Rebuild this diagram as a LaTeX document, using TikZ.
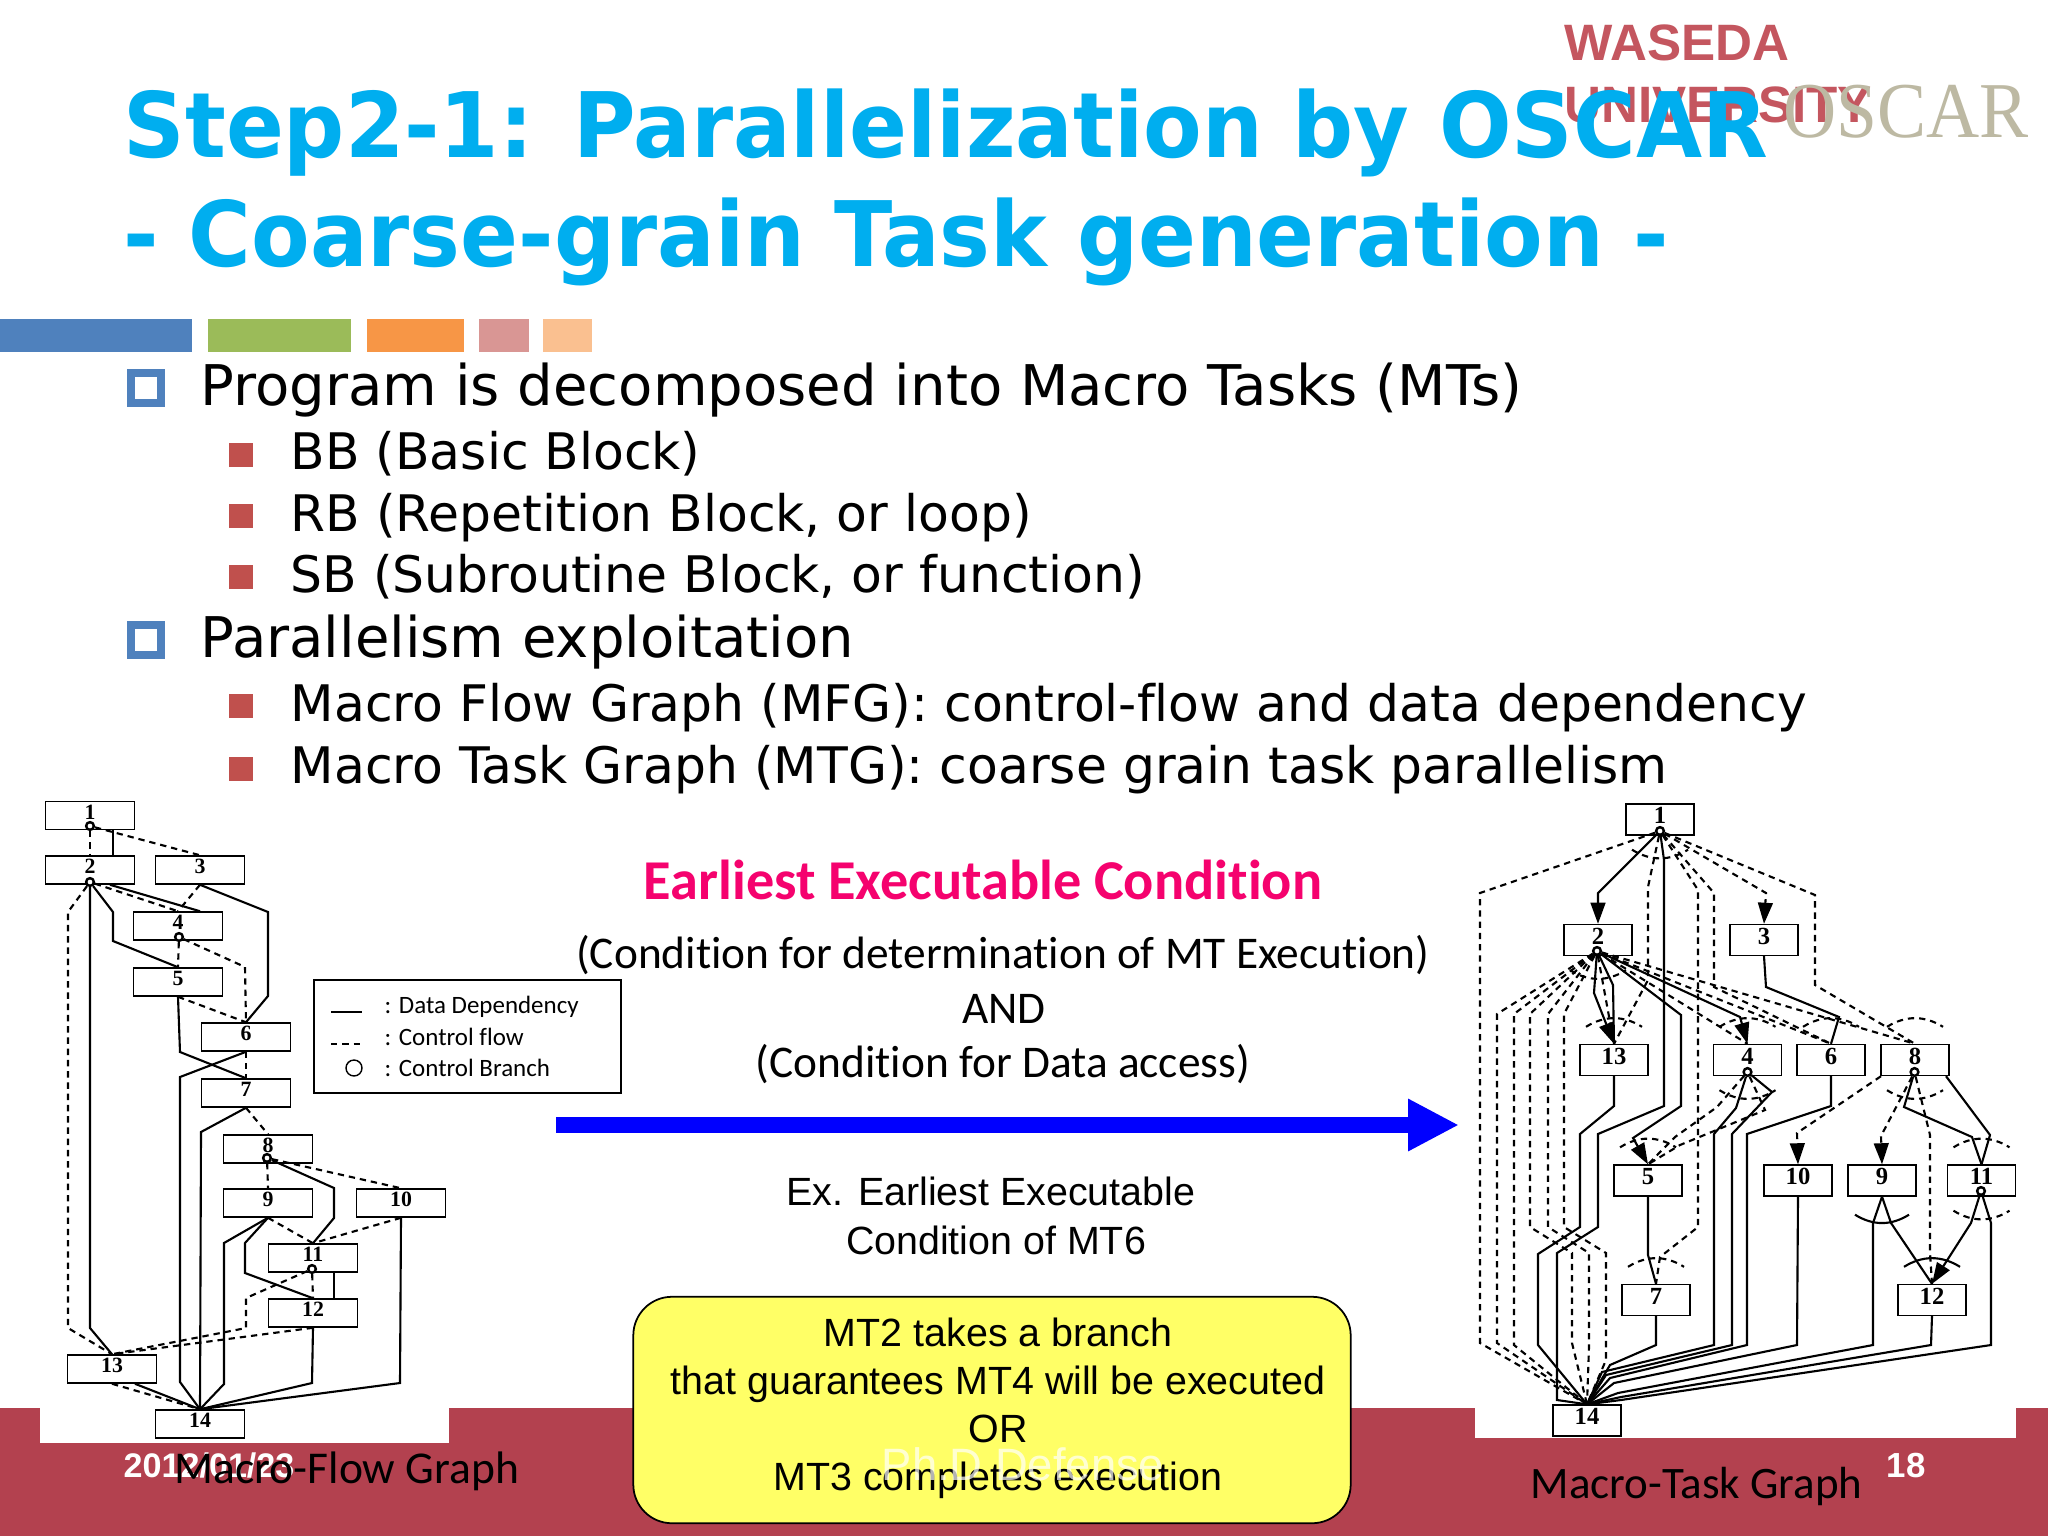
\documentclass[tikz,border=0pt]{standalone}
\usepackage{fontspec}
\usepackage{tikz}
\usetikzlibrary{arrows.meta,calc}
\setmainfont[Ligatures=NoCommon]{DejaVu Sans}
\newfontfamily\titlefont[FakeStretch=0.945]{DejaVu Sans}
\newfontfamily\arialfont{Liberation Sans}
\newfontfamily\calibrifont[Ligatures=NoCommon]{Carlito}
\newfontfamily\serifnum{Liberation Serif}
\newfontfamily\logofont[FakeStretch=0.93]{Liberation Serif}
\definecolor{titleblue}{HTML}{00AEEF}
\definecolor{barblue}{HTML}{4F81BD}
\definecolor{bargreen}{HTML}{9BBB59}
\definecolor{barorange}{HTML}{F79646}
\definecolor{barrose}{HTML}{D99694}
\definecolor{barpeach}{HTML}{FAC090}
\definecolor{markred}{HTML}{C0504D}
\definecolor{footred}{HTML}{B3414F}
\definecolor{wasedared}{HTML}{C4565F}
\definecolor{condpink}{HTML}{F5026E}
\definecolor{notegold}{HTML}{FFFF66}
\definecolor{logogrey}{HTML}{BDB9A3}
\tikzset{
  bar/.style={fill=#1,draw=none},
  hollowmark/.style={draw=barblue,line width=2.1pt,fill=white,minimum size=8.5pt,inner sep=0pt},
  redmark/.style={fill=markred,minimum size=6.9pt,inner sep=0pt},
  titletext/.style={anchor=base west,inner sep=0pt,text=titleblue,font=\titlefont\fontsize{25.7}{30}\bfseries\selectfont},
  bigtext/.style={anchor=base west,inner sep=0pt,font=\fontsize{15.95}{18}\selectfont},
  subtext/.style={anchor=base west,inner sep=0pt,font=\fontsize{14.32}{17}\selectfont},
  condtext/.style={anchor=base,inner sep=0pt,font=\calibrifont\fontsize{12.9}{15}\selectfont},
  arialtext/.style={anchor=base,inner sep=0pt,font=\arialfont\fontsize{11.2}{14}\selectfont},
  legtext/.style={anchor=base west,inner sep=0pt,font=\calibrifont\fontsize{7.1}{9}\selectfont},
  flowbox/.style={draw,fill=white,line width=.4pt,minimum width=25.3pt,minimum height=8pt,inner sep=.5pt,
    text height=4.1pt,text depth=1.9pt,font=\serifnum\fontsize{6.2}{7}\bfseries\selectfont},
  taskbox/.style={draw,fill=white,line width=.4pt,minimum width=19.4pt,minimum height=8.8pt,inner sep=.5pt,
    text height=4.6pt,text depth=2.3pt,font=\serifnum\fontsize{7}{8}\bfseries\selectfont},
  branchpt/.style={circle,draw,fill=white,line width=.7pt,minimum size=2.2pt,inner sep=0pt},
  dep/.style={line width=.6pt},
  ctl/.style={line width=.6pt,dash pattern=on 1.8pt off 1.4pt},
  bigtip/.style={-{Triangle[width=4.2pt,length=6pt]}},
}
\begin{document}
\begin{tikzpicture}[x=0.01cm,y=-0.01cm]
  \useasboundingbox (0,0) rectangle (2048,1536);
  \fill[white] (0,0) rectangle (2048,1536);
  % header
  \node[anchor=base west,inner sep=0pt,text=wasedared,font=\arialfont\fontsize{14.55}{18}\bfseries\selectfont] (waseda) at (1564,60) {WASEDA};
  \node[anchor=base west,inner sep=0pt,text=wasedared,font=\arialfont\fontsize{14.55}{18}\bfseries\selectfont] (univ) at (1564,122) {UNIVERSITY};
  \node[titletext] (title1) at (123,157) {Step2-1: Parallelization by OSCAR};
  \node[titletext] (title2) at (123,266) {- Coarse-grain Task generation -};
  \node[anchor=base west,inner sep=0pt,text=logogrey,font=\logofont\fontsize{22.5}{27}\selectfont] (logo) at (1783,137) {OSCAR};
  \foreach \a/\b/\c in {0/192/barblue,208/351/bargreen,367/464/barorange,479/529/barrose,543/592/barpeach}{
    \path[bar=\c] (\a,319) rectangle (\b,352);
  }
  % bullets
  \node[hollowmark] (mark1) at (146,388) {};
  \node[hollowmark] (mark2) at (146,640) {};
  \foreach \y in {455,516,577,706,769}{
    \node[redmark] at (241,\y) {};
  }
  \node[bigtext] (line1) at (200,405) {Program is decomposed into Macro Tasks (MTs)};
  \node[subtext] (line2) at (290,469) {BB (Basic Block)};
  \node[subtext] (line3) at (290,531) {RB (Repetition Block, or loop)};
  \node[subtext] (line4) at (290,592) {SB (Subroutine Block, or function)};
  \node[bigtext] (line5) at (200,657) {Parallelism exploitation};
  \node[subtext] (line6) at (290,721) {Macro Flow Graph (MFG): control-flow and data dependency};
  \node[subtext] (line7) at (290,783) {Macro Task Graph (MTG): coarse grain task parallelism};
  % footer band
  \fill[footred] (0,1408) rectangle (2048,1536);
  \fill[white] (40,1400) rectangle (449,1443);
  \fill[white] (1475,1400) rectangle (2016,1438);
  % macro flow graph
  \foreach \n/\x/\y in {1/90/815.5,2/90/870,3/200/870,4/178/926,5/178/982,6/246/1037,7/246/1093,8/268/1149,9/268/1203,10/401/1203,11/313/1258,12/313/1313,13/112/1369,14/200/1424}{
    \node[flowbox] (f\n) at (\x,\y) {\n};
  }
  \foreach \n/\x/\y in {1/90/826,2/90/882,4/179/937,8/267/1158,11/312/1269}{
    \node[branchpt] (fb\n) at (\x,\y) {};
  }
  \path[draw,ctl] (fb1) -- (f2.north);
  \path[draw,dep] ($(f1.south)+(23,0)$) -- ($(f2.north)+(23,0)$);
  \path[draw,ctl] (fb1) -- (f3.north);
  \path[draw,ctl] (fb2) -- (68,912) -- (68,1328) -- (f13.north);
  \path[draw,dep] (fb2) -- (90,1328) -- (f13.north);
  \path[draw,dep] (fb2) -- (113,912) -- (113,941) -- (f5.north);
  \path[draw,dep] ($(f2.south)+(20,0)$) -- ($(f4.north)+(22,0)$);
  \path[draw,ctl] (fb2) -- (f4.north);
  \path[draw,ctl] (f3.south) -- (f4.north);
  \path[draw,dep] (f3.south) -- (268,912) -- (268,996) -- (f6.north);
  \path[draw,ctl] (fb4) -- (f5.north);
  \path[draw,ctl] (fb4) -- (245,967) -- (f6.north);
  \path[draw,ctl] (f5.south) -- (f6.north);
  \path[draw,dep] (f5.south) -- (180,1052) -- (f7.north);
  \path[draw,ctl] (f6.south) -- (f7.north);
  \path[draw,dep] (f6.south) -- (180,1077) -- (180,1382) -- (f14.north);
  \path[draw,dep] (f7.south) -- (201,1132) -- (f14.north);
  \path[draw,ctl] (f7.south) -- (f8.north);
  \path[draw,ctl] (fb8) -- (f9.north);
  \path[draw,ctl] (fb8) -- (f10.north);
  \path[draw,dep] (fb8) -- (334,1188) -- (334,1218) -- (f11.north);
  \path[draw,ctl] (f9.south) -- (f11.north);
  \path[draw,dep] (f9.south) -- (224,1243) -- (224,1384) -- (f14.north);
  \path[draw,dep] (f9.south) -- (245,1243) -- (245,1273) -- (f12.north);
  \path[draw,ctl] (f10.south) -- (f11.north);
  \path[draw,dep] (f10.south) -- (400,1383) -- (f14.north);
  \path[draw,ctl] (fb11) -- (f12.north);
  \path[draw,ctl] (fb11) -- (246,1298) -- (246,1328) -- (f13.north);
  \path[draw,dep] ($(f11.south)+(21,0)$) -- ($(f12.north)+(21,0)$);
  \path[draw,ctl] (f12.south) -- (f13.north);
  \path[draw,dep] (f12.south) -- (312,1383) -- (f14.north);
  \path[draw,ctl] (f13.south) -- (f14.north);
  \path[draw,dep] ($(f13.south)+(23,0)$) -- (f14.north);
  % legend
  \node[draw,line width=.5pt,minimum width=87.3pt,minimum height=32pt,inner sep=0pt] (legend) at (467.5,1036.5) {};
  \coordinate (lega) at (331,1012);
  \coordinate (legb) at (362,1012);
  \coordinate (legc) at (331,1044);
  \coordinate (legd) at (362,1044);
  \path[draw,dep] (lega) -- (legb);
  \path[draw,ctl] (legc) -- (legd);
  \path[draw,line width=.4pt] (354,1068) circle (8);
  \node[legtext] (leg1) at (384,1013) {: Data Dependency};
  \node[legtext] (leg2) at (384,1045) {: Control flow};
  \node[legtext] (leg3) at (384,1076) {: Control Branch};
  % condition text
  \node[anchor=base,inner sep=0pt,text=condpink,font=\calibrifont\fontsize{16}{19}\bfseries\selectfont] (cond) at (983,899) {Earliest Executable Condition};
  \node[condtext] (cond1) at (1003,968) {(Condition for determination of MT Execution)};
  \node[condtext] (cond2) at (1004,1023) {AND};
  \node[condtext] (cond3) at (1003,1077) {(Condition for Data access)};
  \coordinate (arrowa) at (556,1125);
  \coordinate (arrowb) at (1459,1125);
  \path[draw,blue,line width=4.55pt,-{Triangle[width=13.9pt,length=14.5pt]}] (arrowa) -- (arrowb);
  \node[arialtext] (ex1) at (991,1205) {Ex. Earliest Executable};
  \node[arialtext] (ex2) at (996,1254) {Condition of MT6};
  % note
  \node[draw,fill=notegold,rounded corners=11pt,line width=.5pt,minimum width=204pt,minimum height=64.4pt,inner sep=0pt] (note) at (992,1410) {};
  \node[arialtext] (note1) at (998,1346) {MT2 takes a branch};
  \node[arialtext] (note2) at (998,1394) {that guarantees MT4 will be executed};
  \node[arialtext] (note3) at (998,1442) {OR};
  \node[arialtext] (note4) at (998,1490) {MT3 completes execution};
  % footer text
  \node[anchor=base west,inner sep=0pt,text=white,font=\arialfont\fontsize{9.7}{12}\bfseries\selectfont] (date) at (123,1477) {2012/01/23};
  \node[anchor=base west,inner sep=0pt,font=\calibrifont\fontsize{12.95}{15}\selectfont] (capf) at (174,1483) {Macro-Flow Graph};
  \node[anchor=base west,inner sep=0pt,font=\calibrifont\fontsize{12.8}{15}\selectfont] (capt) at (1530,1498) {Macro-Task Graph};
  \node[anchor=base,inner sep=0pt,text=white,font=\arialfont\fontsize{9.9}{12}\bfseries\selectfont] (page) at (1906,1477) {18};
  \node[anchor=base,inner sep=0pt,text=white,opacity=.7,font=\arialfont\fontsize{12.9}{15}\selectfont] (defense) at (1023,1480) {Ph.D Defense};
  % macro task graph
  \foreach \n/\x/\y in {1/1660/819.5,2/1598/940,3/1764/940,13/1614/1060,4/1747.5/1060,6/1831/1060,8/1915/1060,5/1648/1180.5,10/1798/1180.5,9/1882/1180.5,11/1981.5/1180.5,7/1656/1300,12/1932/1300,14/1587/1420.5}{
    \node[taskbox] (m\n) at (\x,\y) {\n};
  }
  \foreach \n/\x/\y in {1/1660/831,2/1597/951,4/1747.5/1072,8/1914.5/1072,11/1981/1191}{
    \node[branchpt] (mb\n) at (\x,\y) {};
  }
  % from 1
  \path[draw,dep,bigtip] (mb1) -- (1598,893) -- (m2.north);
  \path[draw,ctl,bigtip] (mb1) -- (1766,893) -- (m3.north);
  \path[draw,ctl] (mb1) -- (1480,893) -- (1480,1343) -- (m14.north);
  \path[draw,ctl] (mb1) -- (1815,895) -- (1815,985) -- (m8.north);
  \path[draw,ctl] (mb1) -- (1648,887) -- (1648,980) -- (m13.north);
  \path[draw,dep] (mb1) -- (1664,860) -- (1664,1106) -- (1598,1134) -- (1598,1227) -- (1557,1253) -- (1557,1400) -- (m14.north);
  \path[draw,ctl] (mb1) -- (1698,890) -- (1698,1227) -- (1660,1257) -- (m7.north);
  \path[draw,ctl] (mb1) -- (1714,893) -- (1714,987) -- (m6.north);
  % from 2
  \path[draw,ctl] (mb2) -- (1497,1014) -- (1497,1343) -- (m14.north);
  \path[draw,ctl] (mb2) -- (1514,1014) -- (1514,1345) -- (m14.north);
  \path[draw,ctl] (mb2) -- (1530,1014) -- (1530,1227) -- (1572,1253) -- (1572,1343) -- (m14.north);
  \path[draw,ctl] (mb2) -- (1548,1014) -- (1548,1227) -- (1589,1253) -- (1589,1347) -- (m14.north);
  \path[draw,ctl] (mb2) -- (1564,1014) -- (1564,1227) -- (1606,1253) -- (1606,1360) -- (m14.north);
  \path[draw,dep,bigtip] (mb2) -- (1594,993) -- (m13.north);
  \path[draw,dep] (mb2) -- (1613,985) -- (m13.north);
  \path[draw,dep,bigtip] (mb2) -- (1681,1015) -- (1681,1106) -- (1633,1138) -- (m5.north);
  \path[draw,dep,bigtip] (mb2) -- (1740,1017) -- (m4.north);
  \path[draw,ctl] (mb2) -- (m8.north);
  \path[draw,ctl] (mb2) -- (m6.north);
  \path[draw,ctl] (mb2) -- (m4.north);
  \path[draw,ctl] (mb2) -- (m13.north);
  % from 3
  \path[draw,dep] (m3.south) -- (1766,987) -- (1839,1017) -- (m6.north);
  % from 13
  \path[draw,dep] (m13.south) -- (1614,1106) -- (1580,1134) -- (1580,1227) -- (1538,1254) -- (1538,1345) -- (m14.north);
  % from 4
  \path[draw,dep] (mb4) -- (1736,1108) -- (1714,1134) -- (1714,1345) -- (1602,1372) -- (m14.north);
  \path[draw,dep] (mb4) -- (1772,1092) -- (1732,1134) -- (1732,1345) -- (1606,1375) -- (m14.north);
  \path[draw,ctl] (mb4) -- (1717,1107) -- (1675,1137) -- (m5.north);
  \path[draw,ctl] (mb4) -- (1765,1110) -- (1680,1145) -- (m5.north);
  % from 5, 6, 7
  \path[draw,dep] (m5.south) -- (1648,1255) -- (m7.north);
  \path[draw,dep] (m6.south) -- (1831,1106) -- (1747,1134) -- (1747,1345) -- (1610,1378) -- (m14.north);
  \path[draw,dep] (m7.south) -- (1656,1345) -- (1610,1365) -- (m14.north);
  % from 8
  \path[draw,ctl,bigtip] ($(m8.south)+(-34,0)$) -- (1797,1133) -- (m10.north);
  \path[draw,ctl,bigtip] (mb8) -- (1881,1136) -- (m9.north);
  \path[draw,dep] (mb8) -- (1904,1107) -- (1972,1137) -- (m11.north);
  \path[draw,dep] ($(m8.south)+(31,0)$) -- (1990,1135) -- (m11.north);
  \path[draw,ctl] (mb8) -- (1930,1135) -- (1930,1253) -- (m12.north);
  % from 9, 10, 11, 12
  \path[draw,dep] (m10.south) -- (1797,1345) -- (1614,1383) -- (m14.north);
  \path[draw,dep] (m9.south) -- (1873,1223) -- (1873,1345) -- (1618,1393) -- (m14.north);
  \path[draw,dep] (m9.south) -- (1891,1223) -- (m12.north);
  \path[draw,dep,bigtip] (mb11) -- (1971,1223) -- (m12.north);
  \path[draw,dep] (mb11) -- (1991,1223) -- (1991,1345) -- (1621,1400) -- (m14.north);
  \path[draw,dep] (m12.south) -- (1931,1345) -- (1621,1397) -- (m14.north);
  % arcs
  \foreach \n in {m13,m4,m6,m8,m5,m7,m11}{
    \path[draw,ctl] ($(\n.north)+(-28,-17)$) to[bend left=32] ($(\n.north)+(28,-17)$);
  }
  \path[draw,dep] ($(m12.north)+(-28,-17)$) to[bend left=32] ($(m12.north)+(28,-17)$);
  \path[draw,dep] ($(m9.south)+(-27,18)$) to[bend right=32] ($(m9.south)+(27,18)$);
  \foreach \n in {m11,m4,m8,m1,m2}{
    \path[draw,ctl] ($(\n.south)+(-28,14)$) to[bend right=32] ($(\n.south)+(28,14)$);
  }
\end{tikzpicture}
\end{document}
